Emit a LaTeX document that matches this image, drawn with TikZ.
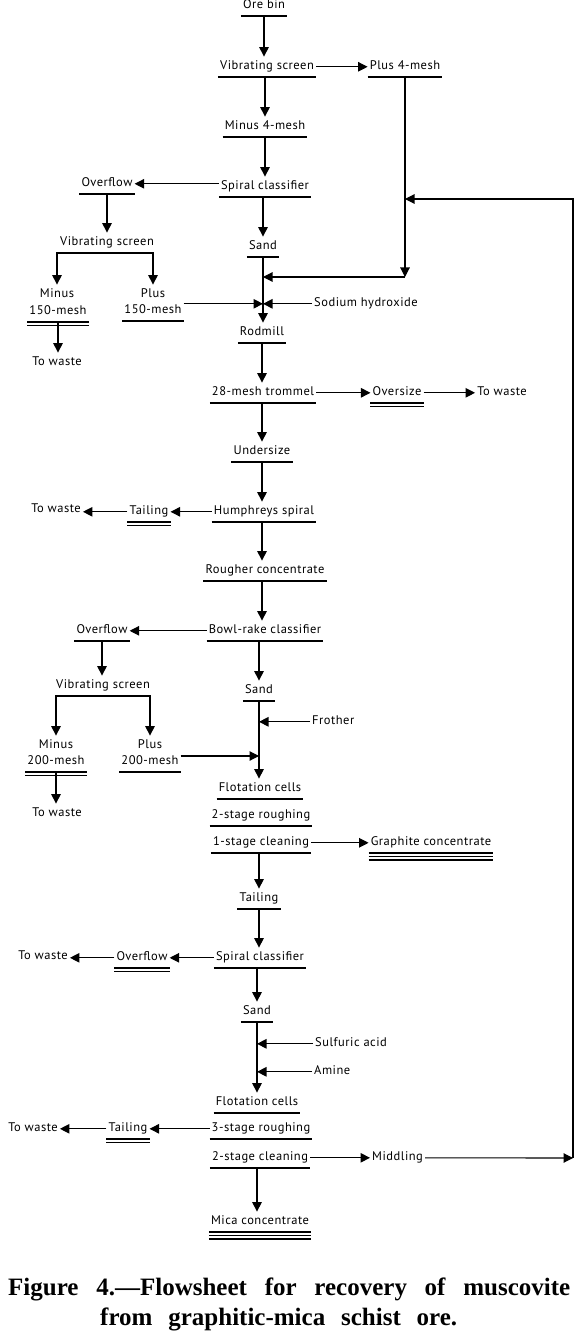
\documentclass[tikz,border=0pt]{standalone}
\usepackage{fontspec}
\usetikzlibrary{positioning,calc,arrows.meta}
\newfontfamily\flowfont[LetterSpace=4]{PT Sans}
\newfontfamily\capfont{Liberation Serif}

\begin{document}
\begin{tikzpicture}[x=1pt, y=-1pt,
    flowbox/.style={font=\flowfont\fontsize{12.5}{14}\selectfont, inner xsep=2pt, inner ysep=4pt, text height=9pt, text depth=3pt, anchor=south},
    ul/.style={append after command={(\tikzlastnode.south west) edge[draw, line width=1.1pt] (\tikzlastnode.south east)}},
    dul/.style={ul, append after command={([yshift=-3.5pt]\tikzlastnode.south west) edge[draw, line width=1.1pt] ([yshift=-3.5pt]\tikzlastnode.south east)}},
    tul/.style={dul, append after command={([yshift=-7pt]\tikzlastnode.south west) edge[draw, line width=1.1pt] ([yshift=-7pt]\tikzlastnode.south east)}},
    stream/.style={draw, line width=1.1pt, -{Triangle[length=9.5pt, width=9.5pt]}}]
    \useasboundingbox (0,0) rectangle (583,1337);

    % crushing and screening
    \node[flowbox, ul] (orebin) at (264,16) {Ore bin};
    \node[flowbox, ul] (vsA) at (267,77) {Vibrating screen};
    \node[flowbox, ul] (plus4) at (405,77) {Plus 4-mesh};
    \node[flowbox, ul] (minus4) at (265,137) {Minus 4-mesh};
    \node[flowbox, ul] (classA) at (265,197) {Spiral classifier};
    \node[flowbox, ul] (overA) at (107,194) {Overflow};
    \node[flowbox] (vsB) at (107,253) {Vibrating screen};
    \node[flowbox] (minusA) at (57,305) {Minus};
    \node[flowbox, dul] (meshA) at (58,322) {150-mesh};
    \node[flowbox] (wasteA) at (57,373) {To waste};
    \node[flowbox] (plusA) at (153,305) {Plus};
    \node[flowbox, ul] (meshB) at (153,321) {150-mesh};
    \node[flowbox, ul] (sandA) at (263,257) {Sand};
    \node[flowbox, anchor=south west] (soda) at (312,314) {Sodium hydroxide};
    \node[flowbox, ul] (rodmill) at (262,343) {Rodmill};

    % trommel and spiral
    \node[flowbox, ul] (trommel) at (263,403) {28-mesh trommel};
    \node[flowbox, dul] (oversize) at (397,403) {Oversize};
    \node[flowbox] (wasteB) at (502,403) {To waste};
    \node[flowbox, ul] (undersize) at (262,462) {Undersize};
    \node[flowbox, ul] (humph) at (264,522) {Humphreys spiral};
    \node[flowbox, dul] (tailA) at (149,522) {Tailing};
    \node[flowbox] (wasteC) at (56,520) {To waste};
    \node[flowbox, ul] (rougher) at (265,581) {Rougher concentrate};
    \node[flowbox, ul] (bowl) at (265,641) {Bowl-rake classifier};
    \node[flowbox, ul] (overB) at (102,641) {Overflow};
    \node[flowbox] (vsC) at (103,696) {Vibrating screen};
    \node[flowbox] (minusB) at (56,756) {Minus};
    \node[flowbox, dul] (meshC) at (56,772) {200-mesh};
    \node[flowbox] (wasteD) at (57,824) {To waste};
    \node[flowbox] (plusB) at (150,756) {Plus};
    \node[flowbox, ul] (meshD) at (150,772) {200-mesh};
    \node[flowbox, ul] (sandB) at (259,701) {Sand};
    \node[flowbox, anchor=south west] (frother) at (310,732) {Frother};

    % graphite flotation
    \node[flowbox, ul] (flotA) at (260,799) {Flotation cells};
    \node[flowbox, ul] (roughA) at (261,826) {2-stage roughing};
    \node[flowbox, ul] (cleanA) at (261,853) {1-stage cleaning};
    \node[flowbox, tul] (graphite) at (431,853) {Graphite concentrate};

    % mica flotation
    \node[flowbox, ul] (tailB) at (259,909) {Tailing};
    \node[flowbox, ul] (classB) at (260,968) {Spiral classifier};
    \node[flowbox, dul] (overC) at (142,968) {Overflow};
    \node[flowbox] (wasteE) at (43,967) {To waste};
    \node[flowbox, ul] (sandC) at (257,1022) {Sand};
    \node[flowbox, anchor=south west] (sulfuric) at (313,1054) {Sulfuric acid};
    \node[flowbox, anchor=south west] (amine) at (312,1082) {Amine};
    \node[flowbox, ul] (flotB) at (257,1113) {Flotation cells};
    \node[flowbox, ul] (roughB) at (261,1139) {3-stage roughing};
    \node[flowbox, dul] (tailC) at (128,1139) {Tailing};
    \node[flowbox] (wasteF) at (33,1139) {To waste};
    \node[flowbox, ul] (cleanB) at (260,1168) {2-stage cleaning};
    \node[flowbox, anchor=south west] (middling) at (370,1168) {Middling};
    \node[flowbox, tul] (mica) at (260,1232) {Mica concentrate};

    % junctions on the main line
    \coordinate (jP) at ([yshift=-20pt]sandA.south);
    \coordinate (jS) at (sandA.south |- soda.west);
    \coordinate (jF) at (sandB.south |- frother.west);
    \coordinate (jM) at (sandB.south |- plusB.south);
    \coordinate (jA) at (sandC.south |- sulfuric.west);
    \coordinate (jB) at (sandC.south |- amine.west);
    \coordinate (retA) at (573,1158);
    \coordinate (retB) at (573,199);

    \draw[stream] (orebin.south) -- (orebin.south |- vsA.north);
    \draw[stream] (vsA.east) -- (plus4.west);
    \draw[stream] (minus4.north |- vsA.south) -- (minus4.north);
    \draw[stream] (minus4.south) -- (classA.north);
    \draw[stream] (sandA.north |- classA.south) -- (sandA.north);
    \draw[stream] (overA.east -| classA.west) -- (overA.east);
    \draw[stream] (overA.south) -- (vsB.north);
    \draw[stream] (vsB.south) -| (minusA.north);
    \draw[stream] (vsB.south) -| (plusA.north);
    \draw[stream] (meshA.south) -- (meshA.south |- wasteA.north);
    \draw[stream] (sandA.south) -- (sandA.south |- rodmill.north);
    \draw[stream] (plus4.south) -- (plus4.south |- jP);
    \draw[stream] (plus4.south |- jP) -- (jP);
    \draw[stream] (meshB.east |- jS) -- (jS);
    \draw[stream] (soda.west) -- (jS);
    \draw[stream] (middling.east) -- (retA);
    \draw[stream] (retA) -- (retB) -- (plus4.south |- retB);

    \draw[stream] (rodmill.south) -- (rodmill.south |- trommel.north);
    \draw[stream] (trommel.east) -- (oversize.west);
    \draw[stream] (oversize.east) -- (wasteB.west);
    \draw[stream] (undersize.north |- trommel.south) -- (undersize.north);
    \draw[stream] (undersize.south) -- (undersize.south |- humph.north);
    \draw[stream] (humph.west) -- (tailA.east);
    \draw[stream] (tailA.west) -- (tailA.west -| wasteC.east);
    \draw[stream] (undersize.south |- humph.south) -- (undersize.south |- rougher.north);
    \draw[stream] (undersize.south |- rougher.south) -- (undersize.south |- bowl.north);
    \draw[stream] (bowl.west) -- (overB.east);
    \draw[stream] (overB.south) -- (overB.south |- vsC.north);
    \draw[stream] (vsC.south) -| (minusB.north);
    \draw[stream] (vsC.south) -| (plusB.north);
    \draw[stream] (meshC.south) -- (meshC.south |- wasteD.north);
    \draw[stream] (sandB.north |- bowl.south) -- (sandB.north);
    \draw[stream] (sandB.south) -- (sandB.south |- flotA.north);
    \draw[stream] (frother.west) -- (jF);
    \draw[stream] (meshD.east |- jM) -- (jM);

    \draw[stream] (cleanA.east) -- (graphite.west);
    \draw[stream] (tailB.north |- cleanA.south) -- (tailB.north);
    \draw[stream] (tailB.south) -- (tailB.south |- classB.north);
    \draw[stream] (classB.west) -- (overC.east);
    \draw[stream] (overC.west) -- (overC.west -| wasteE.east);
    \draw[stream] (sandC.north |- classB.south) -- (sandC.north);
    \draw[stream] (sandC.south) -- (flotB.north);
    \draw[stream] (sulfuric.west) -- (jA);
    \draw[stream] (amine.west) -- (jB);
    \draw[stream] (roughB.west) -- (tailC.east);
    \draw[stream] (tailC.west) -- (wasteF.east);
    \draw[stream] (cleanB.east) -- (middling.west);
    \draw[stream] (sandC.south |- cleanB.south) -- (sandC.south |- mica.north);

    % caption
    \node[anchor=base west, inner sep=0pt, font=\capfont\bfseries\fontsize{25}{30}\selectfont] (capA) at (8,1295) {\makebox[562pt][s]{Figure 4.—Flowsheet for recovery of muscovite}};
    \node[anchor=base west, inner sep=0pt, font=\capfont\bfseries\fontsize{25}{30}\selectfont] (capB) at (100,1325) {\makebox[357pt][s]{from graphitic-mica schist ore.}};
\end{tikzpicture}
\end{document}
